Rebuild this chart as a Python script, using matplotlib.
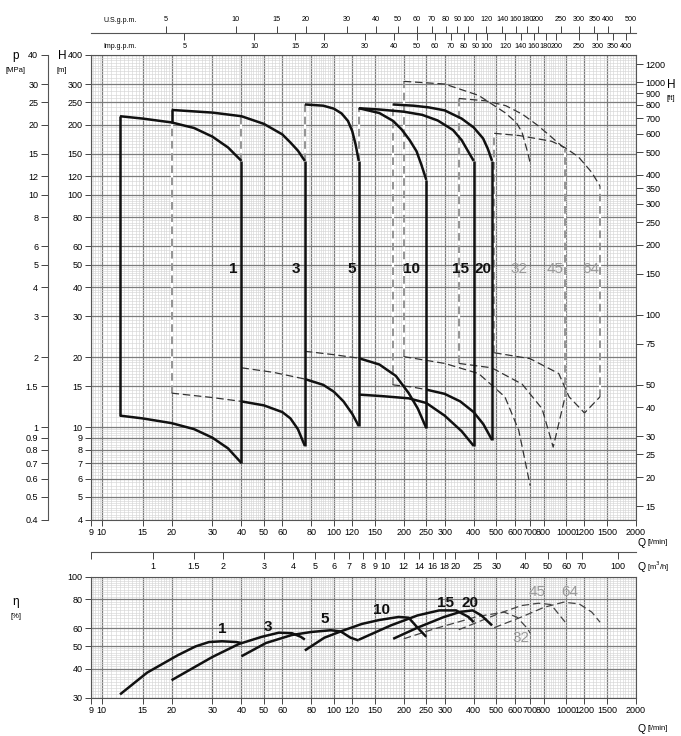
import numpy as np
import matplotlib
matplotlib.use('Agg')
import matplotlib.pyplot as plt

plt.rcParams['font.family'] = ['Liberation Sans Narrow', 'Liberation Sans', 'DejaVu Sans']
plt.rcParams['font.size'] = 6.5

# ---------------- axis tick values ----------------
q_ticks = [9, 10, 15, 20, 30, 40, 50, 60, 80, 100, 120, 150, 200, 250, 300, 400, 500, 600, 700, 800, 1000, 1200, 1500, 2000]
h_ticks = [4, 5, 6, 7, 8, 9, 10, 15, 20, 30, 40, 50, 60, 80, 100, 120, 150, 200, 250, 300, 400]
p_ticks = [0.4, 0.5, 0.6, 0.7, 0.8, 0.9, 1, 1.5, 2, 3, 4, 5, 6, 8, 10, 12, 15, 20, 25, 30, 40]
ft_ticks = [15, 20, 25, 30, 40, 50, 75, 100, 150, 200, 250, 300, 350, 400, 500, 600, 700, 800, 900, 1000, 1200]
usg_ticks = [5, 10, 15, 20, 30, 40, 50, 60, 70, 80, 90, 100, 120, 140, 160, 180, 200, 250, 300, 350, 400, 500]
img_ticks = [5, 10, 15, 20, 30, 40, 50, 60, 70, 80, 90, 100, 120, 140, 160, 180, 200, 250, 300, 350, 400]
m3h_ticks = [1, 1.5, 2, 3, 4, 5, 6, 7, 8, 9, 10, 12, 14, 16, 18, 20, 25, 30, 40, 50, 60, 70, 100]
eta_ticks = [30, 40, 50, 60, 80, 100]

# ---------------- Q-H curves (Q in l/min, H in m) ----------------
p1_top_q = [12, 15, 20, 25, 30, 35, 40]
p1_top_h = [218, 213, 205, 194, 178, 160, 140]
p1_bot_q = [12, 15, 20, 25, 30, 35, 40]
p1_bot_h = [11.2, 10.9, 10.4, 9.8, 9.0, 8.1, 7.0]

p3_top_q = [20, 30, 40, 50, 60, 65, 70, 75]
p3_top_h = [232, 226, 218, 202, 182, 168, 155, 140]
p3_botd_q = [20, 30, 40]
p3_botd_h = [14.0, 13.4, 12.9]
p3_bot_q = [40, 50, 60, 65, 70, 75]
p3_bot_h = [12.9, 12.4, 11.6, 10.9, 9.8, 8.3]

p5_top_q = [75, 90, 100, 108, 115, 120, 124, 128]
p5_top_h = [245, 242, 235, 224, 208, 188, 165, 140]
p5_botd_q = [40, 55, 75]
p5_botd_h = [18.0, 17.2, 16.1]
p5_bot_q = [75, 90, 100, 110, 120, 128]
p5_bot_h = [16.1, 15.2, 14.2, 12.9, 11.4, 10.1]

p10_top_q = [128, 157, 180, 196, 212, 227, 238, 250]
p10_top_h = [236, 225, 208, 191, 172, 154, 135, 116]
p10_botd_q = [75, 100, 128]
p10_botd_h = [21.2, 20.5, 19.8]
p10_bot_q = [128, 157, 185, 210, 230, 250]
p10_bot_h = [19.8, 18.6, 16.6, 14.0, 12.0, 9.9]

p15_top_q = [128, 157, 200, 240, 280, 326, 355, 377, 400]
p15_top_h = [236, 233, 228, 221, 209, 190, 172, 155, 140]
p15_bot_q = [128, 160, 210, 250, 300, 355, 400]
p15_bot_h = [13.8, 13.6, 13.3, 12.7, 11.2, 9.6, 8.3]

p20_top_q = [179, 220, 256, 300, 355, 400, 439, 460, 480]
p20_top_h = [245, 242, 238, 231, 213, 195, 175, 158, 140]
p20_botd_q = [179, 215, 250]
p20_botd_h = [15.2, 14.9, 14.5]
p20_bot_q = [250, 300, 350, 400, 440, 480]
p20_bot_h = [14.5, 13.9, 12.9, 11.6, 10.3, 8.8]

# dashed ranges 32 / 45 / 64
p32_top_q = [200, 300, 420, 545, 610, 646, 686, 700]
p32_top_h = [308, 300, 268, 226, 205, 186, 150, 137]
p32_bot_q = [200, 300, 420, 545, 625, 665, 700]
p32_bot_h = [20.1, 18.8, 17.0, 13.5, 9.7, 7.2, 5.6]

p45_top_q = [345, 450, 550, 650, 750, 850, 920, 990]
p45_top_h = [260, 254, 242, 222, 200, 180, 168, 158]
p45_bot_q = [345, 478, 647, 788, 880, 990]
p45_bot_h = [18.8, 18.0, 15.3, 12.0, 8.2, 13.5]

p64_top_q = [490, 628, 867, 985, 1128, 1289, 1400]
p64_top_h = [184, 180, 170, 160, 146, 125, 109]
p64_bot_q = [490, 700, 930, 1030, 1200, 1400]
p64_bot_h = [20.9, 19.7, 17.0, 13.5, 11.5, 13.5]

# vertical range borders: solid ones
solid_edge_q = [12, 40, 75, 128, 250, 400, 480, 20]
solid_edge_lo = [11.2, 7.0, 8.3, 10.1, 9.9, 8.3, 8.8, 205]
solid_edge_hi = [218, 140, 140, 140, 116, 140, 140, 232]
# vertical borders drawn dashed
dash_edge_q = [20, 40, 75, 128, 179, 200, 345, 490, 990, 1400]
dash_edge_lo = [14.0, 140, 140, 140, 15.2, 20.1, 18.8, 20.9, 13.5, 13.5]
dash_edge_hi = [205, 218, 245, 236, 245, 308, 260, 184, 158, 109]

qh_labels = ['1', '3', '5', '10', '15', '20', '32', '45', '64']
qh_label_q = [37, 69, 119, 215, 350, 437, 628, 896, 1271]

# ---------------- efficiency curves (eta %) ----------------
e1_q = [12, 15.7, 21.3, 25.4, 29, 33, 38, 40]
e1_e = [31, 38.5, 45.8, 50, 52.2, 52.6, 52.2, 51.7]
e3_q = [20, 30, 39, 49, 58, 66, 72, 75]
e3_e = [35.7, 45, 51.2, 55, 57.3, 57, 55, 53.5]
e5_q = [40, 51, 66, 80, 97, 107, 118, 128]
e5_e = [45.3, 51.7, 56, 57.7, 58.7, 58, 54.5, 53]
e10_q = [75, 91, 110, 132, 157, 190, 210, 230, 250]
e10_e = [48, 54.5, 58.6, 62.5, 65, 67, 66.5, 60, 55]
e15_q = [128, 176, 229, 284, 336, 380, 400]
e15_e = [53.4, 61.6, 68, 71.5, 71.5, 67, 63.6]
e20_q = [180, 229, 297, 351, 396, 432, 480]
e20_e = [53.9, 60.2, 66.9, 70.5, 71.5, 68, 61.6]
e32_q = [200, 272, 415, 541, 615, 683, 700]
e32_e = [53.9, 59.6, 67.3, 70.3, 66.8, 59.6, 57]
e45_q = [345, 519, 641, 760, 861, 990]
e45_e = [59, 69.6, 75, 76.8, 75.8, 63.7]
e64_q = [490, 641, 805, 975, 1138, 1290, 1400]
e64_e = [60.2, 66.9, 73.8, 77.6, 76.3, 70.3, 63.6]

eta_labels = ['1', '3', '5', '10', '15', '20', '32', '45', '64']
eta_label_q = [33, 52, 91, 161, 303, 385, 642, 750, 1036]
eta_label_e = [59.5, 60.5, 65.4, 72, 76.8, 76.8, 54.5, 85.6, 85.6]

# =========================================================
W, H = 681, 736
fig = plt.figure(figsize=(W / 100, H / 100), dpi=100)
X0, X1 = 91, 636


def fx(px):
    return px / W


def fy(py):
    return 1 - py / H


def fine(lo, hi):
    out = []
    for e in range(int(np.floor(np.log10(lo))), int(np.ceil(np.log10(hi))) + 1):
        base = 10.0 ** e
        for m in np.concatenate([np.arange(1, 2, 0.05), np.arange(2, 5, 0.1), np.arange(5, 10, 0.2)]):
            v = m * base
            if lo < v < hi:
                out.append(v)
    return out


def fmt(v):
    return ('%g' % v)


def grid_setup(a, ymaj, ylo, yhi):
    a.set_xscale('log')
    a.set_yscale('log')
    a.set_xlim(9, 2000)
    a.set_ylim(ylo, yhi)
    a.set_xticks(q_ticks)
    a.set_xticklabels([fmt(v) for v in q_ticks])
    a.set_xticks(fine(9, 2000), minor=True)
    a.set_yticks(ymaj)
    a.set_yticklabels([fmt(v) for v in ymaj])
    a.set_yticks(fine(ylo, yhi), minor=True)
    a.xaxis.set_minor_formatter(matplotlib.ticker.NullFormatter())
    a.yaxis.set_minor_formatter(matplotlib.ticker.NullFormatter())
    a.grid(which='minor', color='#d6d6d6', lw=0.45)
    a.grid(which='major', color='#7c7c7c', lw=0.9)
    a.set_axisbelow(True)
    a.tick_params(which='minor', length=0)
    a.tick_params(which='major', length=4, width=0.7, color='#444', pad=2, labelsize=6.5)
    for s in a.spines.values():
        s.set_color('#555')
        s.set_linewidth(0.8)


def scale_line(ypx, lo, hi, ticks, labels, side, size=6.5):
    a = fig.add_axes([fx(X0), fy(ypx), (X1 - X0) / W, 0.4 / H])
    a.set_xscale('log')
    a.set_xlim(lo, hi)
    a.set_yticks([])
    for s in a.spines.values():
        s.set_visible(False)
    if side == 'top':
        a.spines['top'].set_visible(True)
        a.spines['top'].set_color('#555')
        a.spines['top'].set_linewidth(0.8)
        a.xaxis.set_ticks_position('top')
        a.xaxis.set_label_position('top')
    else:
        a.xaxis.set_ticks_position('bottom')
    a.set_xticks(ticks)
    a.set_xticklabels(labels)
    a.xaxis.set_minor_locator(matplotlib.ticker.NullLocator())
    a.tick_params(length=5, width=0.7, color='#444', pad=2, labelsize=size)
    a.patch.set_visible(False)
    return a


# ---------------- main Q-H axes ----------------
ax = fig.add_axes([fx(X0), fy(519.5), (X1 - X0) / W, (519.5 - 55) / H])
grid_setup(ax, h_ticks, 4, 400)

SOL = dict(color='#111111', lw=1.8, solid_capstyle='butt', solid_joinstyle='round', zorder=5)
DSH = dict(color='#333333', lw=0.9, ls=(0, (6, 3)), zorder=4)

for q, h in [(p1_top_q, p1_top_h), (p1_bot_q, p1_bot_h), (p3_top_q, p3_top_h), (p3_bot_q, p3_bot_h),
             (p5_top_q, p5_top_h), (p5_bot_q, p5_bot_h), (p10_top_q, p10_top_h), (p10_bot_q, p10_bot_h),
             (p15_top_q, p15_top_h), (p15_bot_q, p15_bot_h), (p20_top_q, p20_top_h), (p20_bot_q, p20_bot_h)]:
    ax.plot(q, h, **SOL)
for q, h in [(p3_botd_q, p3_botd_h), (p5_botd_q, p5_botd_h), (p10_botd_q, p10_botd_h), (p20_botd_q, p20_botd_h),
             (p32_top_q, p32_top_h), (p32_bot_q, p32_bot_h), (p45_top_q, p45_top_h), (p45_bot_q, p45_bot_h),
             (p64_top_q, p64_top_h), (p64_bot_q, p64_bot_h)]:
    ax.plot(q, h, **DSH)
for q, lo, hi in zip(solid_edge_q, solid_edge_lo, solid_edge_hi):
    ax.plot([q, q], [lo, hi], **SOL)
for q, lo, hi in zip(dash_edge_q, dash_edge_lo, dash_edge_hi):
    ax.plot([q, q], [lo, hi], color='white', lw=1.6, zorder=3)
    ax.plot([q, q], [lo, hi], color='#777777', lw=1.1, ls=(0, (5, 3)), zorder=3.5)

for i, (t, q) in enumerate(zip(qh_labels, qh_label_q)):
    gray = i >= 6
    ax.text(q, 48, t, ha='center', va='center', fontsize=11,
            fontweight='normal' if gray else 'bold', color='#9a9a9a' if gray else '#111',
            family=['Liberation Sans', 'DejaVu Sans'], zorder=6)

# right axis in ft
axr = ax.twinx()
axr.set_yscale('log')
axr.set_ylim(4 * 3.28084, 400 * 3.28084)
axr.set_yticks(ft_ticks)
axr.set_yticklabels([fmt(v) for v in ft_ticks])
axr.yaxis.set_minor_locator(matplotlib.ticker.NullLocator())
axr.tick_params(length=5, width=0.7, color='#444', pad=2, labelsize=6.5)
for s in axr.spines.values():
    s.set_visible(False)

# p axis on the far left
axp = ax.twinx()
axp.set_yscale('log')
axp.set_ylim(0.4, 40)
axp.spines['left'].set_position(('outward', 43 * 0.72))
axp.spines['left'].set_visible(True)
axp.spines['left'].set_color('#555')
axp.spines['left'].set_linewidth(0.8)
for k in ['right', 'top', 'bottom']:
    axp.spines[k].set_visible(False)
axp.yaxis.set_ticks_position('left')
axp.yaxis.set_label_position('left')
axp.set_yticks(p_ticks)
axp.set_yticklabels([fmt(v) for v in p_ticks])
axp.yaxis.set_minor_locator(matplotlib.ticker.NullLocator())
axp.tick_params(length=5, width=0.7, color='#444', pad=2, labelsize=6.5)

# ---------------- top gpm scales ----------------
scale_line(33, 9 / 3.785, 2000 / 3.785, usg_ticks, [fmt(v) for v in usg_ticks], 'top', 5.2)
scale_line(33, 9 / 4.546, 2000 / 4.546, img_ticks, [fmt(v) for v in img_ticks], 'bottom', 5.2)
fig.text(fx(103), fy(20), 'U.S.g.p.m.', fontsize=5, va='center', ha='left')
fig.text(fx(103), fy(46), 'Imp.g.p.m.', fontsize=5, va='center', ha='left')

# ---------------- m3/h scale ----------------
axm = scale_line(552, 9 * 0.06, 2000 * 0.06, [9 * 0.06] + m3h_ticks, [''] + [fmt(v) for v in m3h_ticks], 'bottom')
axm.spines['bottom'].set_visible(True)
axm.spines['bottom'].set_color('#555')
axm.spines['bottom'].set_linewidth(0.8)

# ---------------- efficiency axes ----------------
axe = fig.add_axes([fx(X0), fy(697.7), (X1 - X0) / W, 121 / H])
grid_setup(axe, eta_ticks, 30, 100)
ESOL = dict(color='#111111', lw=1.8, solid_capstyle='butt', solid_joinstyle='round', zorder=5)
EDSH = dict(color='#444444', lw=0.9, ls=(0, (6, 3)), zorder=4)
for q, e in [(e1_q, e1_e), (e3_q, e3_e), (e5_q, e5_e), (e10_q, e10_e), (e15_q, e15_e), (e20_q, e20_e)]:
    axe.plot(q, e, **ESOL)
for q, e in [(e32_q, e32_e), (e45_q, e45_e), (e64_q, e64_e)]:
    axe.plot(q, e, **EDSH)
for i, (t, q, e) in enumerate(zip(eta_labels, eta_label_q, eta_label_e)):
    gray = i >= 6
    axe.text(q, e, t, ha='center', va='center', fontsize=11,
             fontweight='normal' if gray else 'bold', color='#9a9a9a' if gray else '#111',
             family=['Liberation Sans', 'DejaVu Sans'], zorder=6)

# ---------------- axis titles ----------------
fig.text(fx(16), fy(56), 'p', fontsize=8.5, ha='center', va='center')
fig.text(fx(16), fy(71), '[MPa]', fontsize=5.5, ha='center', va='center')
fig.text(fx(62), fy(56), 'H', fontsize=8.5, ha='center', va='center')
fig.text(fx(62), fy(71), '[m]', fontsize=5.5, ha='center', va='center')
fig.text(fx(671), fy(85), 'H', fontsize=8.5, ha='center', va='center')
fig.text(fx(671), fy(99), '[ft]', fontsize=5.5, ha='center', va='center')
fig.text(fx(637), fy(543), 'Q', fontsize=7.5, ha='left', va='center')
fig.text(fx(647), fy(543), '[l/min]', fontsize=5.5, ha='left', va='center')
fig.text(fx(637), fy(567), 'Q', fontsize=7.5, ha='left', va='center')
fig.text(fx(647), fy(567), '[m$^3$/h]', fontsize=5.5, ha='left', va='center')
fig.text(fx(637), fy(729), 'Q', fontsize=7.5, ha='left', va='center')
fig.text(fx(647), fy(729), '[l/min]', fontsize=5.5, ha='left', va='center')
fig.text(fx(16), fy(602), 'η', fontsize=8.5, ha='center', va='center')
fig.text(fx(16), fy(617), '[%]', fontsize=5.5, ha='center', va='center')

fig.savefig('out.png', dpi=100)
